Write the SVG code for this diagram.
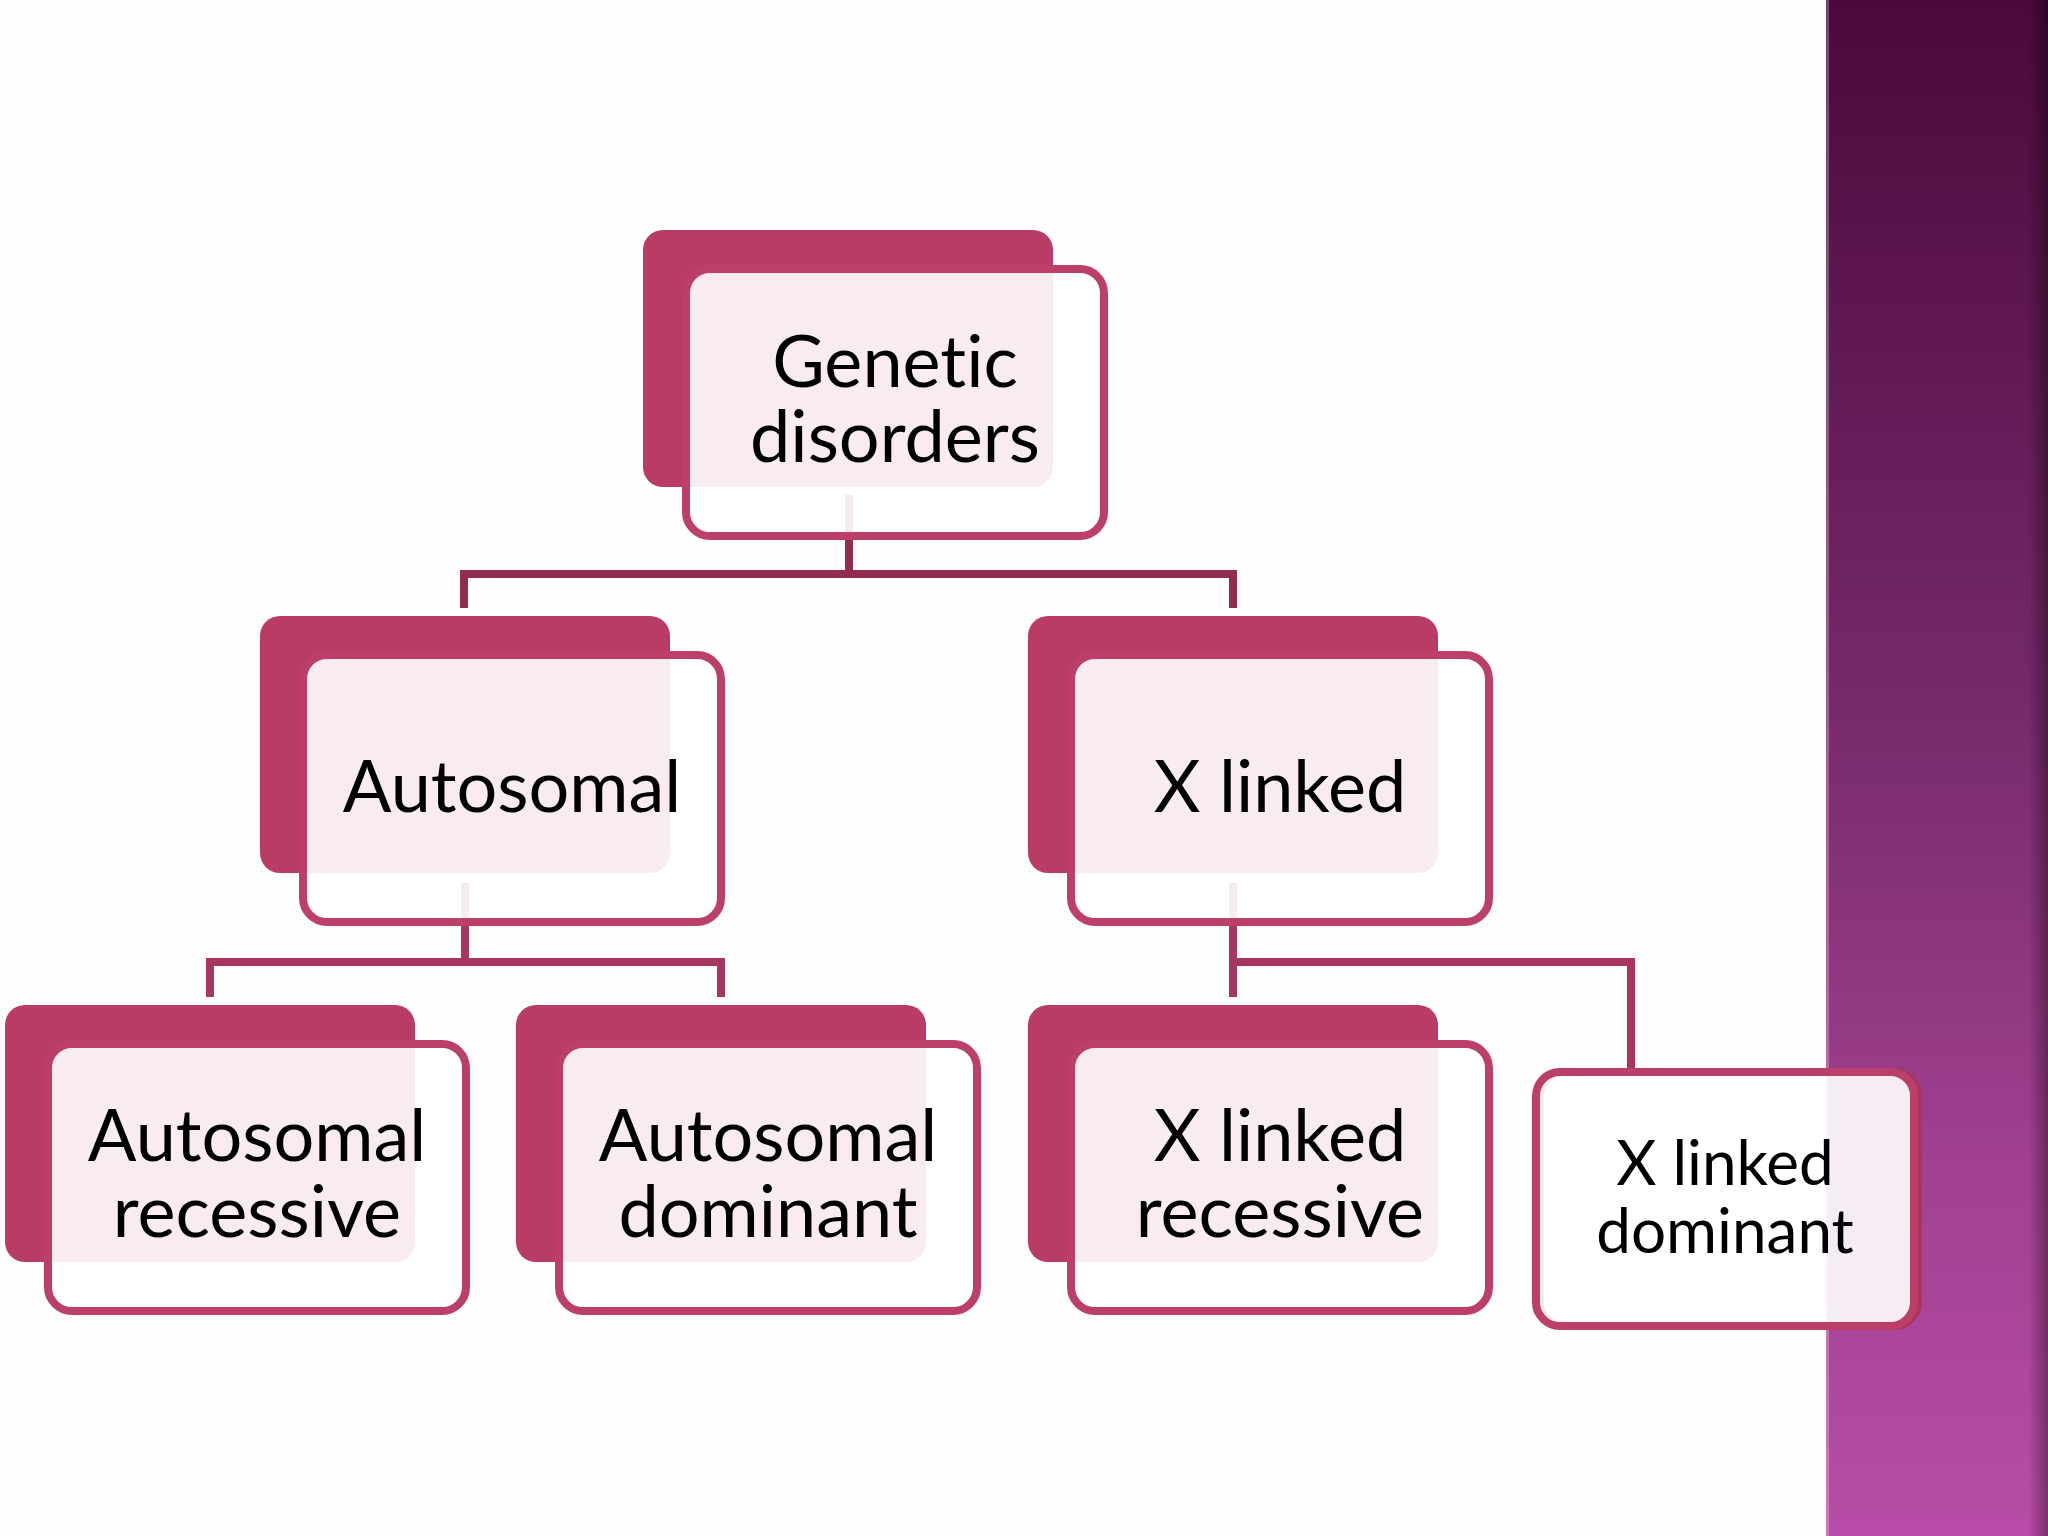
<svg xmlns="http://www.w3.org/2000/svg" width="2048" height="1536" viewBox="0 0 2048 1536">
  <defs>
    <linearGradient id="band" x1="0" y1="0" x2="0" y2="1">
      <stop offset="0" stop-color="#490a3b"/>
      <stop offset="0.45" stop-color="#75296a"/>
      <stop offset="0.75" stop-color="#a0408f"/>
      <stop offset="1" stop-color="#b84ca8"/>
    </linearGradient>
    <linearGradient id="bandEdge" x1="0" y1="0" x2="1" y2="0">
      <stop offset="0" stop-color="#000" stop-opacity="0"/>
      <stop offset="1" stop-color="#000" stop-opacity="0.35"/>
    </linearGradient>
    <style>
      .back { fill: #b83c64; }
      .front { fill: #ffffff; fill-opacity: 0.9; stroke: #bb3f68; stroke-width: 8; }
      .lbl { font-family: Lato, "Open Sans", "DejaVu Sans", sans-serif; font-size: 72px; fill: #000; text-anchor: middle; font-variant-ligatures: none; }
      .lbl-sm { font-family: Lato, "Open Sans", "DejaVu Sans", sans-serif; font-size: 62px; fill: #000; text-anchor: middle; font-variant-ligatures: none; }
      .c1 { fill: none; stroke: #922d50; stroke-width: 8; }
      .c2 { fill: none; stroke: #a83662; stroke-width: 8; }
    </style>
  </defs>

  <rect x="0" y="0" width="2048" height="1536" fill="#fefefe"/>
  <g id="band-bg">
    <rect x="1826" y="0" width="222" height="1536" fill="url(#band)"/>
    <rect x="2028" y="0" width="20" height="1536" fill="url(#bandEdge)"/>
    <rect x="1826" y="0" width="3" height="1536" fill="#ffffff" fill-opacity="0.25"/>
  </g>

  <g id="connectors">
    <path class="c1" d="M849 495 V574 M464 608 V574 H1233 V608"/>
    <path class="c2" d="M465 883 V962 M210 997 V962 H721 V997"/>
    <path class="c2" d="M1233 883 V997 M1233 962 H1631 V1072"/>
  </g>

  <g id="node-genetic">
    <rect class="back" x="643" y="230" width="410" height="257" rx="20"/>
    <rect class="front" x="686" y="269" width="418" height="267" rx="24"/>
    <text class="lbl" x="895" y="387">Genetic<tspan x="895" dy="75">disorders</tspan></text>
  </g>

  <g id="node-autosomal">
    <rect class="back" x="260" y="616" width="410" height="257" rx="20"/>
    <rect class="front" x="303" y="655" width="418" height="267" rx="24"/>
    <text class="lbl" x="512" y="812">Autosomal</text>
  </g>

  <g id="node-xlinked">
    <rect class="back" x="1028" y="616" width="410" height="257" rx="20"/>
    <rect class="front" x="1071" y="655" width="418" height="267" rx="24"/>
    <text class="lbl" x="1280" y="812">X linked</text>
  </g>

  <g id="node-autosomal-recessive">
    <rect class="back" x="5" y="1005" width="410" height="257" rx="20"/>
    <rect class="front" x="48" y="1044" width="418" height="267" rx="24"/>
    <text class="lbl" x="257" y="1161">Autosomal<tspan x="257" dy="76">recessive</tspan></text>
  </g>

  <g id="node-autosomal-dominant">
    <rect class="back" x="516" y="1005" width="410" height="257" rx="20"/>
    <rect class="front" x="559" y="1044" width="418" height="267" rx="24"/>
    <text class="lbl" x="768" y="1161">Autosomal<tspan x="768" dy="76">dominant</tspan></text>
  </g>

  <g id="node-xlinked-recessive">
    <rect class="back" x="1028" y="1005" width="410" height="257" rx="20"/>
    <rect class="front" x="1071" y="1044" width="418" height="267" rx="24"/>
    <text class="lbl" x="1280" y="1161">X linked<tspan x="1280" dy="76">recessive</tspan></text>
  </g>

  <g id="node-xlinked-dominant">
    <rect x="1540" y="1072" width="378" height="254" rx="24" fill="none" stroke="#a8365e" stroke-width="8"/>
    <rect class="front" x="1536" y="1072" width="378" height="254" rx="24"/>
    <text class="lbl-sm" x="1725" y="1185">X linked<tspan x="1725" dy="68">dominant</tspan></text>
  </g>
</svg>
